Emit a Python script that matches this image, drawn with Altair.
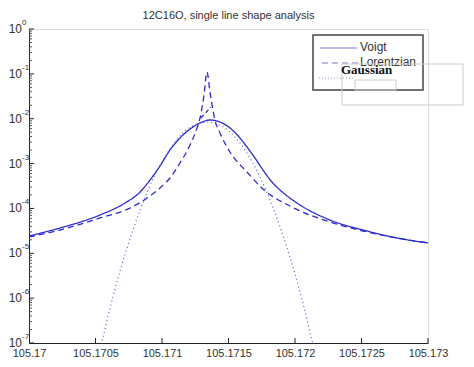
import altair as alt
import pandas as pd

# ---------------- data ----------------
voigt_x = [105.17, 105.170233, 105.170534, 105.170722, 105.170835, 105.17091, 105.170985,
           105.17106, 105.171135, 105.171211, 105.171286, 105.171361, 105.171436, 105.171511,
           105.171586, 105.171639, 105.171699, 105.171759, 105.171827, 105.171887, 105.172015,
           105.172263, 105.172511, 105.172767, 105.173]
voigt_y = [2.43e-5, 3.66e-5, 7.14e-5, 1.32e-4, 2.32e-4, 4.30e-4, 8.83e-4,
           2.01e-3, 3.72e-3, 5.90e-3, 8.03e-3, 9.36e-3, 8.45e-3, 6.21e-3,
           3.72e-3, 2.34e-3, 1.33e-3, 7.19e-4, 3.88e-4, 2.58e-4, 1.32e-4,
           5.52e-5, 3.30e-5, 2.19e-5, 1.70e-5]

lor_x = [105.17, 105.170233, 105.170534, 105.170759, 105.17091, 105.170985, 105.17106,
         105.171135, 105.171211, 105.171263, 105.171286, 105.171316, 105.171338, 105.171361,
         105.171383, 105.171398, 105.171436, 105.171511, 105.171639, 105.171759, 105.171962,
         105.172263, 105.172511, 105.172767, 105.173]
lor_y = [2.31e-5, 3.30e-5, 6.12e-5, 1.02e-4, 1.89e-4, 2.86e-4, 4.77e-4,
         1.03e-3, 2.59e-3, 6.21e-3, 1.04e-2, 3.38e-2, 1.10e-1, 3.94e-2,
         1.56e-2, 9.36e-3, 4.81e-3, 1.81e-3, 6.49e-4, 2.71e-4, 1.13e-4,
         4.99e-5, 3.14e-5, 2.19e-5, 1.70e-5]

lor2_x = [105.171293, 105.171368]
lor2_y = [1.04e-2, 1.82e-2]

gau_x = [105.170519, 105.170541, 105.170609, 105.170684, 105.170737, 105.170835, 105.170947,
         105.17106, 105.171173, 105.171263, 105.171338, 105.171414, 105.171511, 105.171624,
         105.171737, 105.17185, 105.17194, 105.172, 105.172075, 105.172135, 105.17215]
gau_y = [8.0e-8, 1.0e-7, 6.04e-7, 4.03e-6, 1.31e-5, 9.23e-5, 5.56e-4,
         2.11e-3, 5.32e-3, 7.62e-3, 8.45e-3, 7.62e-3, 5.06e-3, 2.01e-3,
         5.02e-4, 7.91e-5, 1.31e-5, 3.46e-6, 5.18e-7, 1.0e-7, 8.0e-8]

x_ticks = [105.17, 105.1705, 105.171, 105.1715, 105.172, 105.1725, 105.173]
y_ticks = [1e-7, 1e-6, 1e-5, 1e-4, 1e-3, 1e-2, 1e-1, 1e0]
y_exps = ["-7", "-6", "-5", "-4", "-3", "-2", "-1", "0"]
y_minor = [k * t for t in y_ticks[:-1] for k in range(2, 10)]

title_text = "12C16O, single line shape analysis"
legend_names = ["Voigt", "Lorentzian", "Gaussian"]

# ---------------- chart ----------------
W, H = 399, 314
BLUE = "#2b2bcc"
TXT = "#333333"
FONT = "Liberation Sans"
AX = "#222222"

xs = alt.Scale(domain=[105.17, 105.173], nice=False, zero=False)
ys = alt.Scale(type="log", domain=[1e-7, 1], nice=False)


def line_layer(xv, yv, dash, color=BLUE, width=1.3):
    df = pd.DataFrame({"x": xv, "y": yv})
    return alt.Chart(df).mark_line(
        color=color, strokeWidth=width, strokeDash=dash, clip=True, interpolate="monotone"
    ).encode(
        x=alt.X("x:Q", scale=xs,
                axis=alt.Axis(values=x_ticks, format=".7~g", title=None, grid=False,
                              ticks=False, tickSize=0, labelPadding=4, labelFontSize=11,
                              labelColor=TXT, labelFont=FONT, domainColor=AX,
                              domainWidth=1, labelFlush=False)),
        y=alt.Y("y:Q", scale=ys,
                axis=alt.Axis(values=y_ticks, labels=False, ticks=False, tickSize=0,
                              title=None, grid=False, domainColor=AX, domainWidth=1)),
    )


voigt = line_layer(voigt_x, voigt_y, [1, 0])
lor = line_layer(lor_x, lor_y, [6, 4])
lor2 = line_layer(lor2_x, lor2_y, [4, 3])
gau = line_layer(gau_x, gau_y, [1, 3], color="#5a5ad6", width=1.2)

tick_df = pd.DataFrame({"v": y_ticks, "e": y_exps, "b": ["10"] * len(y_ticks)})
minor_df = pd.DataFrame({"v": y_minor})
xt_df = pd.DataFrame({"x": x_ticks[1:]})

y_major = alt.Chart(tick_df).mark_rule(color=AX, strokeWidth=1).encode(
    y=alt.Y("v:Q", scale=ys), x=alt.value(0), x2=alt.value(5))
y_min = alt.Chart(minor_df).mark_rule(color="#555555", strokeWidth=1).encode(
    y=alt.Y("v:Q", scale=ys), x=alt.value(0), x2=alt.value(3))
x_major = alt.Chart(xt_df).mark_rule(color=AX, strokeWidth=1).encode(
    x=alt.X("x:Q", scale=xs), y=alt.value(H), y2=alt.value(H - 5))

y_base = alt.Chart(tick_df).mark_text(
    align="right", baseline="middle", fontSize=12, font=FONT, color=TXT, dx=-7, dy=0
).encode(y=alt.Y("v:Q", scale=ys), x=alt.value(0), text="b:N")
y_exp = alt.Chart(tick_df).mark_text(
    align="left", baseline="middle", fontSize=8, font=FONT, color=TXT, dx=-7, dy=-6
).encode(y=alt.Y("v:Q", scale=ys), x=alt.value(0), text="e:N")

title = alt.Chart(pd.DataFrame({"t": [title_text]})).mark_text(
    fontSize=11, font=FONT, color=TXT, baseline="middle", align="center"
).encode(x=alt.value(W / 2), y=alt.value(-13), text="t:N")

# legend box (MATLAB style), drawn in pixel space
leg_df = pd.DataFrame({"n": [0]})
leg_box = alt.Chart(leg_df).mark_rect(fill="white", stroke="#444444", strokeWidth=1.5).encode(
    x=alt.value(284), x2=alt.value(394), y=alt.value(6), y2=alt.value(61))
leg_l1 = alt.Chart(leg_df).mark_rule(color="#7777cc", strokeWidth=1.2).encode(
    x=alt.value(291), x2=alt.value(328), y=alt.value(19))
leg_l2 = alt.Chart(leg_df).mark_rule(color="#7777cc", strokeWidth=1.2, strokeDash=[6, 4]).encode(
    x=alt.value(293), x2=alt.value(329), y=alt.value(34))
leg_l3 = alt.Chart(leg_df).mark_rule(color="#9999cc", strokeWidth=1.2, strokeDash=[1, 2]).encode(
    x=alt.value(290), x2=alt.value(326), y=alt.value(49))
leg_t1 = alt.Chart(pd.DataFrame({"t": [legend_names[0]]})).mark_text(
    align="left", baseline="middle", fontSize=12, font=FONT, color=TXT).encode(
    x=alt.value(331), y=alt.value(18), text="t:N")
leg_t2 = alt.Chart(pd.DataFrame({"t": [legend_names[1]]})).mark_text(
    align="left", baseline="middle", fontSize=12, font=FONT, color=TXT).encode(
    x=alt.value(331), y=alt.value(33), text="t:N")
ghost1 = alt.Chart(leg_df).mark_rect(fill=None, fillOpacity=0, stroke="#cccccc", strokeWidth=1).encode(
    x=alt.value(313), x2=alt.value(434), y=alt.value(35), y2=alt.value(76))
ghost2 = alt.Chart(leg_df).mark_rect(fill=None, fillOpacity=0, stroke="#cccccc", strokeWidth=1).encode(
    x=alt.value(326), x2=alt.value(367), y=alt.value(51), y2=alt.value(61))
leg_t3 = alt.Chart(pd.DataFrame({"t": [legend_names[2]]})).mark_text(
    align="left", baseline="middle", fontSize=13, font="Liberation Serif", color="#111111",
    fontWeight="bold").encode(x=alt.value(312), y=alt.value(41), text="t:N")

chart = alt.layer(
    voigt, lor, lor2, gau, y_major, y_min, x_major, y_base, y_exp, title,
    leg_box, leg_l1, leg_l2, leg_l3, leg_t1, leg_t2, ghost1, ghost2, leg_t3
).properties(
    width=W, height=H,
    autosize=alt.AutoSizeParams(type="none"),
    padding={"left": 21, "top": 21, "right": 38, "bottom": 16},
).configure_view(stroke=None).configure(background="white")

chart.save("out.html", embed_options={"renderer": "svg", "actions": False})
